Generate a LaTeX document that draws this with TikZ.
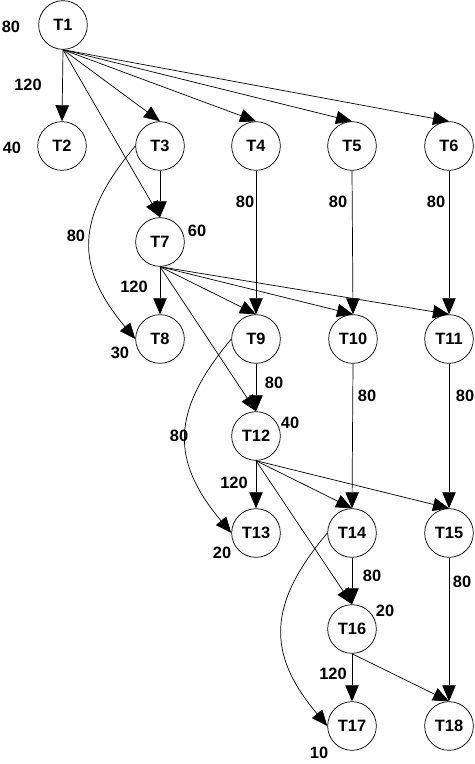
\documentclass[tikz,border=0pt]{standalone}
\usepackage{fontspec}
\setmainfont{Liberation Sans}
\usetikzlibrary{arrows.meta,positioning,shapes}

\tikzset{
  task/.style={circle,draw,line width=0.6pt,minimum size=1.46cm,inner sep=0pt,
    font=\bfseries\fontsize{14}{16}\selectfont},
  cost/.style={font=\bfseries\fontsize{14}{16}\selectfont,inner sep=0pt},
  dep/.style={line width=0.6pt,-{Triangle[length=0.48cm,width=0.4cm]}}
}

\begin{document}
\begin{tikzpicture}[x=0.03cm,y=-0.03cm]
    \useasboundingbox (0,0) rectangle (474,764);

    % tasks
    \node[task] (T1) at (63,25) {T1};
    \node[task] (T2) at (62,146) {T2};
    \node[task] (T3) at (160,146) {T3};
    \node[task] (T4) at (256,146) {T4};
    \node[task] (T5) at (352,146) {T5};
    \node[task] (T6) at (449,146) {T6};

    \node[task] (T7) at (160,242) {T7};
    \node[task] (T8) at (160,339) {T8};
    \node[task] (T9) at (256,339) {T9};
    \node[task] (T10) at (353,339) {T10};
    \node[task] (T11) at (449,339) {T11};

    \node[task] (T12) at (256,436) {T12};
    \node[task] (T13) at (256,533) {T13};
    \node[task] (T14) at (352,533) {T14};
    \node[task] (T15) at (449,533) {T15};

    \node[task] (T16) at (352,629) {T16};
    \node[task] (T17) at (352,726) {T17};
    \node[task] (T18) at (449,726) {T18};

    % computation costs
    \node[cost] (cost1) at (11,27) {80};
    \node[cost] (cost2) at (12,148) {40};
    \node[cost] (cost7) at (197,231) {60};
    \node[cost] (cost8) at (120,353) {30};
    \node[cost] (cost12) at (290,423) {40};
    \node[cost] (cost13) at (222,553) {20};
    \node[cost] (cost16) at (385,611) {20};
    \node[cost] (cost17) at (319,753) {10};

    % communication costs
    \node[cost] (comm1) at (28,85) {120};
    \node[cost] (comm2) at (76,236) {80};
    \node[cost] (comm3) at (245,202) {80};
    \node[cost] (comm4) at (338,202) {80};
    \node[cost] (comm5) at (436,202) {80};
    \node[cost] (comm6) at (134,287) {120};
    \node[cost] (comm7) at (274,383) {80};
    \node[cost] (comm8) at (367,396) {80};
    \node[cost] (comm9) at (465,396) {80};
    \node[cost] (comm10) at (179,436) {80};
    \node[cost] (comm11) at (234,483) {120};
    \node[cost] (comm12) at (372,576) {80};
    \node[cost] (comm13) at (462,582) {80};
    \node[cost] (comm14) at (333,674) {120};

    % edges
    \draw[dep] (T1.south) -- (T2.north);
    \draw[dep] (T1.south) -- (T3.north);
    \draw[dep] (T1.south) -- (T4.north);
    \draw[dep] (T1.south) -- (T5.north);
    \draw[dep] (T1.south) -- (T6.north);
    \draw[dep] (T1.south) -- (T7.north);

    \draw[dep] (T3.south) -- (T7.north);
    \draw[dep] (T4.south) -- (T9.north);
    \draw[dep] (T5.south) -- (T10.north);
    \draw[dep] (T6.south) -- (T11.north);
    \draw[dep] (T3.west) to[out=230,in=130,looseness=1.25] (T8.west);

    \draw[dep] (T7.south) -- (T8.north);
    \draw[dep] (T7.south) -- (T9.north);
    \draw[dep] (T7.south) -- (T10.north);
    \draw[dep] (T7.south) -- (T11.north);
    \draw[dep] (T7.south) -- (T12.north);

    \draw[dep] (T9.south) -- (T12.north);
    \draw[dep] (T10.south) -- (T14.north);
    \draw[dep] (T11.south) -- (T15.north);
    \draw[dep] (T9.west) to[out=230,in=130,looseness=1.25] (T13.west);

    \draw[dep] (T12.south) -- (T13.north);
    \draw[dep] (T12.south) -- (T14.north);
    \draw[dep] (T12.south) -- (T15.north);
    \draw[dep] (T12.south) -- (T16.north);

    \draw[dep] (T14.south) -- (T16.north);
    \draw[dep] (T15.south) -- (T18.north);
    \draw[dep] (T14.west) to[out=230,in=130,looseness=1.25] (T17.west);

    \draw[dep] (T16.south) -- (T17.north);
    \draw[dep] (T16.south) -- (T18.north);
\end{tikzpicture}
\end{document}
